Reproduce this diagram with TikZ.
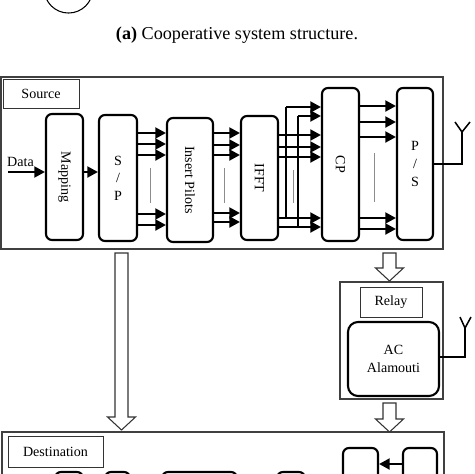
\documentclass[tikz,border=0pt]{standalone}
\usepackage{fontspec}
\setmainfont{Liberation Serif}
\usepackage{graphicx}
\usetikzlibrary{positioning,arrows.meta,calc}
% hollow block arrow between two named points (start, tip)
\newcommand{\bigarrow}[2]{\draw[hol] ($(#1)+(-6.5,0)$) -- ($(#1)+(6.5,0)$) -- ($(#2)+(6.5,-13)$) -- ($(#2)+(14,-13)$) -- (#2) -- ($(#2)+(-14,-13)$) -- ($(#2)+(-6.5,-13)$) -- cycle;}

\begin{document}
\begin{tikzpicture}[x=0.03cm, y=-0.03cm,
      blk/.style={draw, rounded corners=0.18cm, line width=1.8pt, inner sep=0pt, align=center},
      outer/.style={draw=black!75, line width=0.9pt, inner sep=0pt},
      lbl/.style={draw=black!80, line width=0.8pt, inner sep=0pt},
      arr/.style={-{Triangle[length=3.2mm,width=3.3mm]}, line width=1.8pt},
      hol/.style={draw=black!80, line width=0.9pt, fill=white},
      dots/.style={draw=black!45, line width=0.6pt},
      every node/.style={font=\fontsize{12}{15}\selectfont}]
    \useasboundingbox (0,0) rectangle (474,474);
    \clip (0,0) rectangle (474,474);
    % previous panel
    \draw[line width=0.9pt] (68.5,-11.3) circle (0.73cm);
    \node[font=\fontsize{15.5}{18}\selectfont] (cap) at (237,35) {\textbf{(a)} Cooperative system structure.};
    % Source
    \node[outer, minimum width=13.26cm, minimum height=5.16cm] (srcbox) at (222,163) {};
    \node[lbl, minimum width=2.28cm, minimum height=0.87cm] (srclbl) at (41,93.5) {Source};
    \node[blk, minimum width=1.11cm, minimum height=3.78cm] (map) at (64.5,177) {\rotatebox{-90}{Mapping}};
    \node[blk, minimum width=1.14cm, minimum height=3.78cm] (sp) at (118,178) {S\\/\\P};
    \node[blk, minimum width=1.38cm, minimum height=3.72cm] (ip) at (190,180) {\rotatebox{-90}{Insert Pilots}};
    \node[blk, minimum width=1.11cm, minimum height=3.72cm] (ifft) at (259.5,178) {\rotatebox{-90}{IFFT}};
    \node[blk, minimum width=1.11cm, minimum height=4.59cm] (cp) at (340.5,164.5) {\rotatebox{-90}{CP}};
    \node[blk, minimum width=1.08cm, minimum height=4.56cm] (ps) at (415,164) {P\\/\\S};
    \node (data) at (20.5,162) {Data};
    \coordinate (datain) at (8,172);
    \draw[arr] (datain) -- (map.west |- datain); \draw[arr] (map.east |- 0,172) -- (sp.west |- 0,172);
    \foreach \yy in {133,144,155,214,225} \draw[arr] (sp.east |- 0,\yy) -- (ip.west |- 0,\yy);
    \foreach \yy in {133,145,155,213,222} \draw[arr] (ip.east |- 0,\yy) -- (ifft.west |- 0,\yy);
    \foreach \yy in {135,147,157,218,227} \draw[arr] (ifft.east |- 0,\yy) -- (cp.west |- 0,\yy);
    % cyclic prefix copies
    \draw[line width=1pt] (286,218) -- (286,107); \draw[line width=1pt] (298,227) -- (298,116);
    \draw[arr] (286,107) -- (cp.west |- 0,107); \draw[arr] (298,116) -- (cp.west |- 0,116);
    \foreach \yy in {106,122,137,218,229} \draw[arr] (cp.east |- 0,\yy) -- (ps.west |- 0,\yy);
    \draw[dots] (150,168) -- (150,203); \draw[dots] (224,168) -- (224,203);
    \draw[dots] (293,170) -- (293,203); \draw[dots] (374,153) -- (374,202);
    % antenna
    \coordinate (ant1) at (462,132);
    \draw[line width=1.3pt] (ps.east |- 0,164) -| (ant1) -- (455,122) (ant1) -- (470,122);
    % Relay
    \node[outer, minimum width=3.09cm, minimum height=3.51cm] (relaybox) at (391.5,340.5) {};
    \node[lbl, minimum width=1.86cm, minimum height=0.9cm] (relaylbl) at (391,302) {Relay};
    \node[blk, rounded corners=0.3cm, minimum width=2.73cm, minimum height=2.22cm, font=\fontsize{12}{16}\selectfont] (ac) at (393.5,359) {AC\\Alamouti};
    \coordinate (ant2) at (465,328);
    \draw[line width=1.3pt] (ac.east |- 0,357) -| (ant2) -- (460,317) (ant2) -- (471,317);
    % Destination
    \node[outer, minimum width=13.26cm, minimum height=1.74cm] (dstbox) at (223,461) {};
    \node[lbl, minimum width=2.85cm, minimum height=0.93cm] (dstlbl) at (55.5,451.5) {Destination};
    \node[blk, minimum width=0.84cm, minimum height=0.84cm] (b1) at (69,486) {};
    \node[blk, minimum width=0.75cm, minimum height=0.84cm] (b2) at (117.5,486) {};
    \node[blk, minimum width=2.25cm, minimum height=0.84cm] (b3) at (199.5,486) {};
    \node[blk, minimum width=0.84cm, minimum height=0.84cm] (b4) at (291,486) {};
    \node[blk, minimum width=1.05cm, minimum height=1.56cm] (r1) at (360.5,474) {};
    \node[blk, minimum width=1.02cm, minimum height=1.56cm] (r2) at (420,474) {};
    \draw[arr] (r2.west |- 0,464) -- (r1.east |- 0,464);
    % block arrows
    \coordinate (sd1) at (121.5,253); \coordinate (sd2) at (121.5,430);
    \coordinate (sr1) at (389.5,253); \coordinate (sr2) at (389.5,281);
    \coordinate (rd1) at (389.5,403); \coordinate (rd2) at (389.5,432);
    \bigarrow{sd1}{sd2} \bigarrow{sr1}{sr2} \bigarrow{rd1}{rd2}
  \end{tikzpicture}
\end{document}
